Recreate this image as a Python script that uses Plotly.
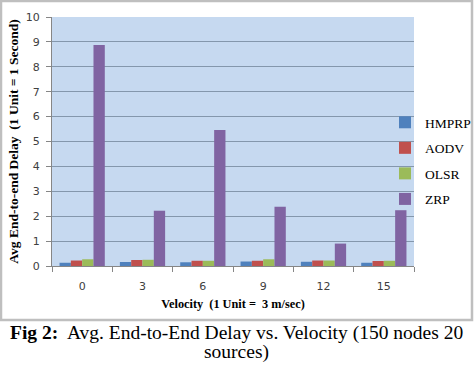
import plotly.graph_objects as go

velocity = ["0", "3", "6", "9", "12", "15"]
hmprp = [0.13, 0.16, 0.15, 0.18, 0.17, 0.13]
aodv = [0.22, 0.24, 0.21, 0.21, 0.22, 0.20]
olsr = [0.27, 0.25, 0.21, 0.27, 0.22, 0.21]
zrp = [8.88, 2.22, 5.46, 2.38, 0.90, 2.24]

series = [("HMPRP", hmprp, "#4F81BD"), ("AODV", aodv, "#C0504D"),
          ("OLSR", olsr, "#9BBB59"), ("ZRP", zrp, "#8064A2")]

fig = go.Figure()
for name, vals, col in series:
    fig.add_trace(go.Bar(x=velocity, y=vals, name=name, marker_color=col,
                         marker_line_width=0, legendgroup=name))

W, H = 474, 366
ml, mr, mt, mb = 52, 60, 17, 100
pw = W - ml - mr
ph = H - mt - mb

SERIF = "Liberation Serif, Times New Roman, serif"

fig.update_layout(
    width=W, height=H,
    margin=dict(l=ml, r=mr, t=mt, b=mb, autoexpand=False),
    paper_bgcolor="white",
    plot_bgcolor="#C6D9F0",
    barmode="group", bargap=0.25, bargroupgap=0,
    showlegend=True,
    legend=dict(x=(385 - ml) / pw, xanchor="left", y=(266 - 161) / ph, yanchor="middle",
                font=dict(family=SERIF, size=13.5, color="#000"),
                bgcolor="rgba(0,0,0,0)", itemwidth=30, tracegroupgap=5,
                traceorder="grouped"),
    xaxis=dict(type="category", showgrid=False, ticks="outside", tickson="boundaries",
               ticklen=5, tickcolor="#868686", showline=True, linecolor="#868686",
               automargin=False, ticklabelstandoff=10,
               tickfont=dict(family="DejaVu Sans", size=11, color="#404040"),
               title=dict(text="Velocity  (1 Unit =  3 m/sec)", standoff=7,
                          font=dict(family=SERIF, size=12.3, color="#000", weight="bold"))),
    yaxis=dict(range=[0, 10], dtick=1, showgrid=True, gridcolor="#8497AC", gridwidth=1,
               ticks="outside", ticklen=5, tickcolor="#868686", showline=True, linecolor="#868686",
               zeroline=False, automargin=False, ticklabelstandoff=4,
               tickfont=dict(family="DejaVu Sans", size=11, color="#404040"),
               title=dict(text="Avg End-to-end Delay  (1 Unit = 1 Second)", standoff=4,
                          font=dict(family=SERIF, size=13.5, color="#000", weight="bold"))),
    font=dict(family=SERIF),
)

# outer chart border
fig.add_shape(type="rect", xref="paper", yref="paper",
              x0=(1 - ml) / pw, x1=(472 - ml) / pw,
              y0=-(320 - (H - mb)) / ph, y1=(266 - 1) / ph,
              line=dict(color="#BFBFBF", width=2.5), layer="below")

fig.add_annotation(xref="paper", yref="paper", x=(236 - ml) / pw, y=-(333 - (H - mb)) / ph,
                   text="<b>Fig 2:</b>  Avg. End-to-End Delay vs. Velocity (150 nodes 20",
                   showarrow=False, font=dict(family=SERIF, size=19.5, color="#000"),
                   xanchor="center", yanchor="middle")
fig.add_annotation(xref="paper", yref="paper", x=(236 - ml) / pw, y=-(352 - (H - mb)) / ph,
                   text="sources)",
                   showarrow=False, font=dict(family=SERIF, size=19.5, color="#000"),
                   xanchor="center", yanchor="middle")

fig.write_html("out.html", config={"displayModeBar": False},
               post_script="document.body.style.margin='0';document.body.style.overflow='hidden';")
